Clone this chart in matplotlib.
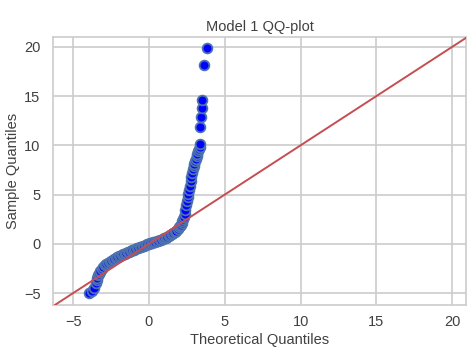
import numpy as np
import matplotlib.pyplot as plt

# theoretical vs sample quantiles
theoretical_q = [
    -3.95, -3.78, -3.62, -3.52, -3.45, -3.40, -3.35, -3.30, -3.25, -3.20,
    -3.10, -3.00, -2.90, -2.80, -2.70, -2.60, -2.50, -2.40, -2.30, -2.20,
    -2.10, -2.00, -1.90, -1.80, -1.70, -1.60, -1.50, -1.40, -1.30, -1.20,
    -1.10, -1.00, -0.90, -0.80, -0.70, -0.60, -0.50, -0.40, -0.30, -0.20,
    -0.10, 0.00, 0.10, 0.20, 0.30, 0.40, 0.50, 0.60, 0.70, 0.80,
    0.90, 1.00, 1.10, 1.20, 1.30, 1.40, 1.50, 1.60, 1.70, 1.80,
    1.90, 2.00, 2.05, 2.10, 2.15, 2.20, 2.25, 2.30, 2.35, 2.40,
    2.45, 2.50, 2.55, 2.60, 2.65, 2.70, 2.75, 2.80, 2.85, 2.90,
    2.95, 3.00, 3.05, 3.10, 3.15, 3.20, 3.25, 3.30, 3.35,
    3.38, 3.38, 3.44, 3.51, 3.53, 3.66, 3.86,
]
sample_q = [
    -5.03, -4.75, -4.45, -4.00, -3.70, -3.45, -3.18, -3.02, -2.88, -2.76,
    -2.55, -2.35, -2.17, -2.03, -1.91, -1.80, -1.70, -1.61, -1.52, -1.44,
    -1.36, -1.28, -1.21, -1.14, -1.07, -1.00, -0.93, -0.86, -0.80, -0.73,
    -0.66, -0.60, -0.53, -0.47, -0.41, -0.35, -0.29, -0.23, -0.17, -0.11,
    -0.05, 0.03, 0.08, 0.13, 0.18, 0.23, 0.28, 0.33, 0.39, 0.44,
    0.50, 0.56, 0.63, 0.71, 0.79, 0.88, 0.98, 1.09, 1.21, 1.34,
    1.50, 1.70, 1.82, 1.96, 2.12, 2.30, 2.48, 2.70, 3.05, 3.45,
    3.90, 4.35, 4.75, 5.10, 5.50, 5.90, 6.35, 6.80, 7.20, 7.55,
    7.85, 8.15, 8.40, 8.65, 8.90, 9.15, 9.40, 9.65, 9.85,
    10.10, 11.90, 12.90, 13.80, 14.60, 18.10, 19.90,
]

plt.style.use('seaborn-v0_8-whitegrid')
plt.rcParams['font.family'] = ['Liberation Sans', 'DejaVu Sans']
plt.rcParams['text.color'] = '.25'
plt.rcParams['axes.labelcolor'] = '.25'
plt.rcParams['xtick.color'] = '.25'
plt.rcParams['ytick.color'] = '.25'

fig = plt.figure(figsize=(4.74, 3.55), dpi=100)
ax = fig.add_axes([0.112, 0.141, 0.871, 0.755])

ax.plot(theoretical_q, sample_q, 'o', markersize=7,
        markerfacecolor='#0000FF', markeredgecolor='#4C72B0',
        markeredgewidth=1.3, linestyle='None', zorder=2)
ax.axline((0, 0), slope=1, color='#C44E52', linewidth=1.4, zorder=3)

ax.set_xlim(-6.32, 20.9)
ax.set_ylim(-6.2, 21.0)
ax.set_xticks([-5, 0, 5, 10, 15, 20])
ax.set_yticks([-5, 0, 5, 10, 15, 20])
ax.tick_params(axis='x', labelsize=10.5, length=0, pad=7)
ax.tick_params(axis='y', labelsize=10.5, length=0, pad=9)

for s in ax.spines.values():
    s.set_visible(True)
    s.set_color('.8')
    s.set_linewidth(1.2)
ax.grid(True, color='.8', linewidth=1.2)

ax.set_xlabel("Theoretical Quantiles", fontsize=10.5, labelpad=3)
ax.set_ylabel("Sample Quantiles", fontsize=10.5, labelpad=3)
ax.set_title("Model 1 QQ-plot", fontsize=10.5, pad=4)

fig.savefig("out.png", dpi=100)
